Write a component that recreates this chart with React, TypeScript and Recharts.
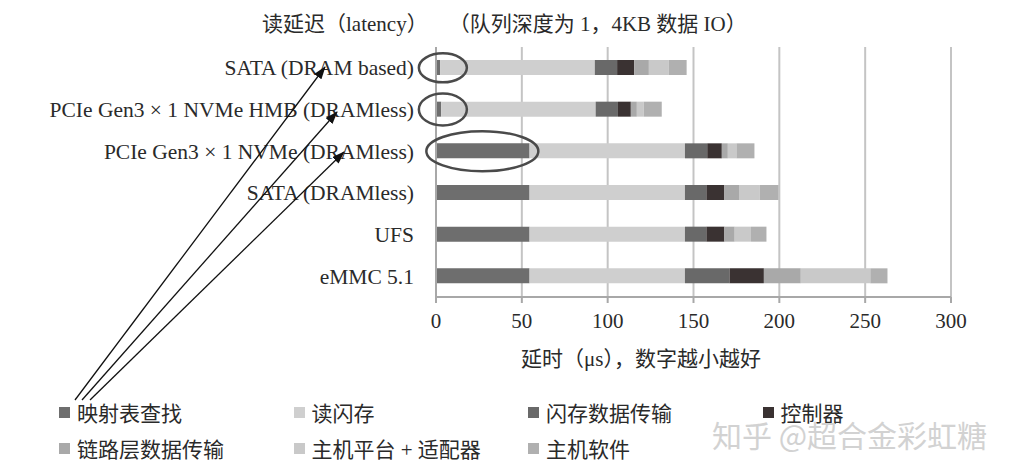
import { BarChart, Bar, XAxis, YAxis, CartesianGrid, ReferenceDot } from 'recharts';

// rows, top to bottom
const categories = [
  'SATA (DRAM based)',
  'PCIe Gen3 × 1 NVMe HMB (DRAMless)',
  'PCIe Gen3 × 1 NVMe (DRAMless)',
  'SATA (DRAMless)',
  'UFS',
  'eMMC 5.1',
];

// segment lengths in µs
const mappingLookup = [2.5, 3, 54.5, 54.5, 54.5, 54.5];
const flashRead = [90, 90, 90.5, 90.5, 90.5, 90.5];
const flashTransfer = [13, 13, 13, 12.5, 12.5, 26];
const controller = [10, 7.5, 8.5, 10.5, 10.5, 20];
const linkTransfer = [8.5, 3.5, 3.5, 8.5, 6, 21.5];
const hostPlatform = [11.5, 4, 5, 12, 9.5, 40.5];
const hostSoftware = [10.5, 10.5, 10.5, 11, 9, 10];

const xTicks = [0, 50, 100, 150, 200, 250, 300];

const series = [
  { key: 'mapping', name: '映射表查找', color: '#6e6e6e', values: mappingLookup },
  { key: 'read', name: '读闪存', color: '#cfcfcf', values: flashRead },
  { key: 'xfer', name: '闪存数据传输', color: '#696969', values: flashTransfer },
  { key: 'ctrl', name: '控制器', color: '#3a3232', values: controller },
  { key: 'link', name: '链路层数据传输', color: '#a9a9a9', values: linkTransfer },
  { key: 'host', name: '主机平台 + 适配器', color: '#c9c9c9', values: hostPlatform },
  { key: 'sw', name: '主机软件', color: '#b0b0b0', values: hostSoftware },
];

// legend grid order: row 1 then row 2
const legendRows = [
  ['mapping', 'read', 'xfer', 'ctrl'],
  ['link', 'host', 'sw'],
];

const data = categories.map((name, i) => {
  const row: Record<string, string | number> = { name };
  series.forEach((s) => { row[s.key] = s.values[i]; });
  return row;
});

const FONT = "'Liberation Serif', 'Noto Sans CJK SC', serif";
const TEXT = '#2a2a2a';

const Ellipse = (rx: number, ry: number) => (props: any) => (
  <ellipse cx={props.cx} cy={props.cy} rx={rx} ry={ry} fill="none" stroke="#4a4a4a" strokeWidth={2.5} />
);

export default function App() {
  return (
    <div style={{ position: 'absolute', left: 0, top: 0, width: 1013, height: 472, background: '#fff', fontFamily: FONT, color: TEXT }}>
      <div style={{ position: 'absolute', left: 262, top: 7, fontSize: 21, whiteSpace: 'pre' }}>
        读延迟（latency）{'    '}（队列深度为 1，4KB 数据 IO）
      </div>

      <BarChart width={1013} height={472} data={data} layout="vertical" margin={{ top: 47, right: 62, bottom: 145, left: 0 }}>
        <CartesianGrid horizontal={false} stroke="#c4c4c4" strokeWidth={2} />
        <XAxis
          type="number"
          domain={[0, 300]}
          ticks={xTicks}
          height={30}
          stroke="#a8a8a8"
          axisLine={{ stroke: '#a8a8a8', strokeWidth: 2 }}
          tickLine={{ stroke: '#a8a8a8', strokeWidth: 2 }}
          tickSize={6}
          tickMargin={10}
          tick={{ fill: TEXT, fontSize: 21, fontFamily: FONT }}
        />
        <YAxis
          type="category"
          dataKey="name"
          width={436}
          axisLine={{ stroke: '#a8a8a8', strokeWidth: 2 }}
          tickLine={false}
          tickSize={6}
          tickMargin={16}
          tick={{ fill: TEXT, fontSize: 21.5, fontFamily: FONT }}
        />
        {series.map((s) => (
          <Bar key={s.key} dataKey={s.key} name={s.name} stackId="lat" fill={s.color} barSize={15} isAnimationActive={false} />
        ))}
        <ReferenceDot x={4} y={categories[0]} shape={Ellipse(24, 14.5)} />
        <ReferenceDot x={4} y={categories[1]} shape={Ellipse(24, 16)} />
        <ReferenceDot x={27} y={categories[2]} shape={Ellipse(56, 20)} />
      </BarChart>

      <div style={{ position: 'absolute', left: 521, top: 342, fontSize: 21, whiteSpace: 'pre' }}>
        延时（μs），数字越小越好
      </div>

      {legendRows.map((row, r) => row.map((k, c) => {
        const s = series.find((x) => x.key === k)!;
        return (
          <div key={k} style={{ position: 'absolute', left: 59 + c * 234.5, top: 397 + r * 36, fontSize: 21, display: 'flex', alignItems: 'center', whiteSpace: 'pre' }}>
            <span style={{ display: 'inline-block', width: 11, height: 11, background: s.color, marginRight: 7 }} />
            {s.name}
          </div>
        );
      }))}

      <div style={{ position: 'absolute', left: 712, top: 412, fontSize: 30, color: '#d2d2d2', fontFamily: "'Noto Sans CJK SC', sans-serif", whiteSpace: 'pre' }}>
        知乎 @超合金彩虹糖
      </div>

      <svg width={1013} height={472} style={{ position: 'absolute', left: 0, top: 0, pointerEvents: 'none' }}>
        <defs>
          <marker id="arrowHead" markerWidth={13} markerHeight={9} refX={12} refY={4.5} orient="auto" markerUnits="userSpaceOnUse">
            <path d="M0,0 L13,4.5 L0,9 Z" fill="#111" />
          </marker>
        </defs>
        <line x1={75} y1={400} x2={325} y2={67} stroke="#111" strokeWidth={1.3} markerEnd="url(#arrowHead)" />
        <line x1={82} y1={400} x2={337} y2={112} stroke="#111" strokeWidth={1.3} markerEnd="url(#arrowHead)" />
        <line x1={90} y1={400} x2={344} y2={152} stroke="#111" strokeWidth={1.3} markerEnd="url(#arrowHead)" />
      </svg>
    </div>
  );
}
